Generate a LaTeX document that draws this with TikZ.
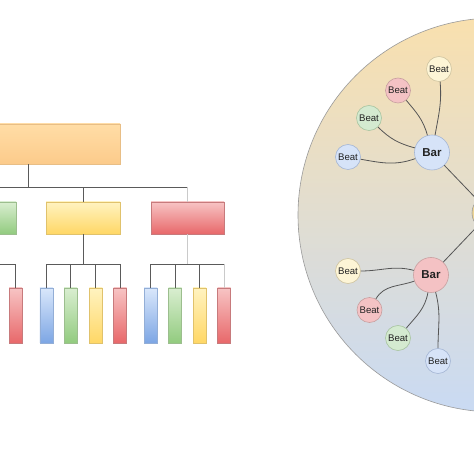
\documentclass[tikz,border=0pt]{standalone}
\usepackage{fontspec}
\setmainfont{Liberation Sans}
\definecolor{treeline}{HTML}{5A5A5A}
\definecolor{treelight}{HTML}{CACACA}
\definecolor{connc}{HTML}{555555}
\definecolor{txt}{HTML}{222222}
\definecolor{orgT}{HTML}{FFDDA6}\definecolor{orgB}{HTML}{FCCB8B}\definecolor{orgD}{HTML}{E8BE86}
\definecolor{yelT}{HTML}{FFF3C0}\definecolor{yelB}{HTML}{FFD766}\definecolor{yelD}{HTML}{E0C26C}
\definecolor{redT}{HTML}{F7C4C4}\definecolor{redB}{HTML}{E8686A}\definecolor{redD}{HTML}{C77A7C}
\definecolor{grnT}{HTML}{D9EED0}\definecolor{grnB}{HTML}{92CB7F}\definecolor{grnD}{HTML}{9CBE8E}
\definecolor{bluT}{HTML}{D9E7FB}\definecolor{bluB}{HTML}{7DA6E4}\definecolor{bluD}{HTML}{93AED6}
\definecolor{cirT}{HTML}{F9E0AE}\definecolor{cirM}{HTML}{EBE7D8}\definecolor{cirB}{HTML}{C9DAF3}
\definecolor{cirD}{HTML}{9A9A9A}
\definecolor{bYel}{HTML}{FDF5D6}\definecolor{bYelD}{HTML}{CFC4A0}
\definecolor{bPnk}{HTML}{F4C2C4}\definecolor{bPnkD}{HTML}{C8A0A0}
\definecolor{bGrn}{HTML}{D4EAD0}\definecolor{bGrnD}{HTML}{A8C4A0}
\definecolor{bBlu}{HTML}{D6E3F8}\definecolor{bBluD}{HTML}{A5B6D4}
\definecolor{hubF}{HTML}{EED595}
\begin{document}
\begin{tikzpicture}[x=1pt,y=1pt,
  tl/.style={draw=treeline, line width=0.8pt},
  tlight/.style={draw=treelight, line width=0.8pt},
  box/.style={rectangle, inner sep=0pt, line width=0.6pt},
  leaf/.style={box, minimum width=13pt, minimum height=55pt},
  orgbox/.style={top color=orgT, bottom color=orgB, draw=orgD},
  yelbox/.style={top color=yelT, bottom color=yelB, draw=yelD},
  redbox/.style={top color=redT, bottom color=redB, draw=redD},
  grnbox/.style={top color=grnT, bottom color=grnB, draw=grnD},
  blubox/.style={top color=bluT, bottom color=bluB, draw=bluD},
  beat/.style={circle, inner sep=0pt, minimum size=25pt, line width=0.6pt, font=\fontsize{9.6}{9.6}\selectfont, text=txt},
  barnode/.style={circle, inner sep=0pt, minimum size=35pt, line width=0.6pt, font=\bfseries\fontsize{11.5}{11.5}\selectfont, text=txt},
  conn/.style={draw=connc, line width=0.8pt}
]
\useasboundingbox (0,0) rectangle (474,474);
\clip (0,0) rectangle (474,474);
\fill[white] (0,0) rectangle (474,474);

% ---------- tree ----------
\node[box, orgbox, minimum width=180pt, minimum height=40pt] (top) at (30,330) {};
\node[box, grnbox, minimum width=76pt, minimum height=32pt] (mg) at (-22,256) {};
\node[box, yelbox, minimum width=74pt, minimum height=32pt] (my) at (83,256) {};
\node[box, redbox, minimum width=73pt, minimum height=32pt] (mr) at (187.5,256) {};

\node[leaf, redbox] (l0) at (15.7,158.5) {};
\node[leaf, blubox] (l1) at (46.3,158.5) {};
\node[leaf, grnbox] (l2) at (70.7,158.5) {};
\node[leaf, yelbox] (l3) at (95.8,158.5) {};
\node[leaf, redbox] (l4) at (120,158.5) {};
\node[leaf, blubox] (l5) at (150.7,158.5) {};
\node[leaf, grnbox] (l6) at (175,158.5) {};
\node[leaf, yelbox] (l7) at (199.7,158.5) {};
\node[leaf, redbox] (l8) at (224,158.5) {};

\coordinate (hl) at (-10,287);
\coordinate (hr) at (187.5,287);
\coordinate (tv) at (28,287);
\draw[tl] (top.south -| tv) -- (tv);
\draw[tl] (hl) -- (hr);
\draw[tl] (my.north) -- (my.north |- hl);
\draw[tlight] (hr) -- (mr.north);

\coordinate (lh) at (-10,210);
% left group
\draw[tl] (lh) -- (l0.north |- lh) -- (l0.north);
% middle group
\draw[tl] (my.south) -- (my.south |- lh);
\draw[tl] (l1.north) -- (l1.north |- lh) -- (l4.north |- lh) -- (l4.north);
\draw[tl] (l2.north) -- (l2.north |- lh);
\draw[tl] (l3.north) -- (l3.north |- lh);
% right group
\draw[tlight] (mr.south) -- (mr.south |- lh);
\draw[tl] (l5.north) -- (l5.north |- lh) -- (l8.north |- lh);
\draw[tl] (l6.north) -- (l6.north |- lh);
\draw[tl] (l7.north) -- (l7.north |- lh);
\draw[tlight] (l8.north |- lh) -- (l8.north);

% ---------- circle ----------
\node[circle, minimum size=394pt, inner sep=0pt, top color=cirT, middle color=cirM, bottom color=cirB, draw=cirD, line width=0.6pt] (big) at (495,259) {};

\node[circle, minimum size=36pt, inner sep=0pt, fill=hubF, draw=cirD, line width=0.6pt] (hub) at (490,261) {};

\node[barnode, fill=bBlu, draw=bBluD] (bar1) at (432,321.5) {Bar};
\node[barnode, fill=bPnk, draw=bPnkD] (bar2) at (431,199) {Bar};

\node[beat, fill=bYel, draw=bYelD] (y1) at (439,405) {Beat};
\node[beat, fill=bPnk, draw=bPnkD] (p1) at (398,383.5) {Beat};
\node[beat, fill=bGrn, draw=bGrnD] (g1) at (369,356) {Beat};
\node[beat, fill=bBlu, draw=bBluD] (u1) at (348,317) {Beat};

\node[beat, fill=bYel, draw=bYelD] (y2) at (348,203) {Beat};
\node[beat, fill=bPnk, draw=bPnkD] (p2) at (369.5,164) {Beat};
\node[beat, fill=bGrn, draw=bGrnD] (g2) at (398,136) {Beat};
\node[beat, fill=bBlu, draw=bBluD] (u2) at (438,113) {Beat};

\draw[conn] (bar1) -- (hub);
\draw[conn] (bar2) -- (hub);

\draw[conn] (u1) to[out=-10, in=200] (bar1);
\draw[conn] (g1) to[out=-45, in=165] (bar1);
\draw[conn] (p1) to[out=-50, in=105] (bar1);
\draw[conn] (y1) to[out=-85, in=80] (bar1);

\draw[conn] (y2) to[out=0, in=165] (bar2);
\draw[conn] (p2) to[out=60, in=200] (bar2);
\draw[conn] (g2) to[out=50, in=-100] (bar2);
\draw[conn] (u2) to[out=90, in=-75] (bar2);
\end{tikzpicture}
\end{document}
